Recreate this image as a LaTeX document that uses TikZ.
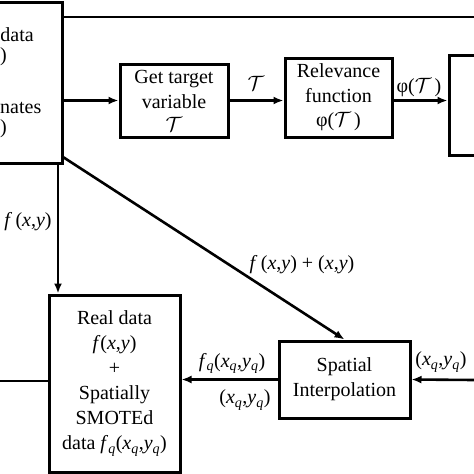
\documentclass[tikz,border=0pt]{standalone}
\usepackage{fontspec}
\setmainfont{Liberation Serif}
\usetikzlibrary{arrows.meta,calc}
\newcommand{\myi}[1]{\textit{#1}}
\begin{document}
\begin{tikzpicture}[x=1pt,y=-1pt,
  box/.style={draw,line width=3pt,rectangle,inner sep=0pt,align=center,
    font=\fontsize{20}{25}\selectfont},
  arr/.style={line width=2.6pt,-{Latex[length=10pt,width=8pt]}},
  ln/.style={line width=2.6pt},
  lab/.style={inner sep=0pt,font=\fontsize{20}{25}\selectfont},
  txt/.style={inner sep=0pt,font=\fontsize{20}{25}\selectfont}]
\useasboundingbox (0,0) rectangle (474,474);
\begin{scope}
\clip (0,0) rectangle (474,474);
\node[box,minimum width=102pt,minimum height=161pt] (L) at (11,82.5) {};
\node[box,minimum width=91pt,minimum height=100pt] (X) at (494.5,105) {};
\end{scope}
\node[txt,anchor=east] (L1) at (34,35) {data};
\node[txt,anchor=east] (L2) at (7,57) {)};
\node[txt,anchor=west] (L3) at (0,108) {nates};
\node[txt,anchor=east] (L4) at (7,129) {)};
\node[box,minimum width=108pt,minimum height=73pt] (G) at (174,100.5)
  {Get target\\variable\\[-2pt]$\mathcal{T}$};
\node[box,minimum width=107pt,minimum height=79pt] (R) at (338.5,97.5)
  {Relevance\\function\\[-1pt]φ($\mathcal{T}$\,)};
\node[box,minimum width=131pt,minimum height=177pt] (D) at (114.5,383.5)
  {Real data\\\myi{f}(\myi{x},\myi{y})\\+\\Spatially\\SMOTEd\\data \myi{f}\textsubscript{\myi{q}}(\myi{x}\textsubscript{\myi{q}},\myi{y}\textsubscript{\myi{q}})};
\node[box,minimum width=131pt,minimum height=77pt] (S) at (344.5,379.5)
  {Spatial\\Interpolation};
\coordinate (t1) at (474,17);
\coordinate (v) at (58,0);
\coordinate (r) at (474,380);
\coordinate (l) at (0,381);
\coordinate (d0) at (63,157);
\draw[ln] (L.east |- t1) -- (t1);
\draw[arr] (L.east |- G.west) -- (G.west);
\draw[arr] (G.east) -- (G.east -| R.west);
\draw[arr] (R.east |- G.east) -- (X.west |- G.east);
\draw[arr] (L.south -| v) -- (D.north -| v);
\draw[arr] (d0) -- (S.north);
\draw[arr] (S.west) -- (S.west -| D.east);
\draw[arr] (r) -- (S.east);
\draw[ln] (D.west |- l) -- (l);
\node[lab] (a1) at (256,83) {$\mathcal{T}$};
\node[lab] (a2) at (419,88) {φ($\mathcal{T}$\,)};
\node[lab] (a3) at (28,222) {\myi{f}\,(\myi{x},\myi{y})};
\node[lab] (a4) at (302,265) {\myi{f}\,(\myi{x},\myi{y}) + (\myi{x},\myi{y})};
\node[lab] (a5) at (232,363) {\myi{f}\textsubscript{\myi{q}}(\myi{x}\textsubscript{\myi{q}},\myi{y}\textsubscript{\myi{q}})};
\node[lab] (a6) at (245,400) {(\myi{x}\textsubscript{\myi{q}},\myi{y}\textsubscript{\myi{q}})};
\node[lab] (a7) at (441,362) {(\myi{x}\textsubscript{\myi{q}},\myi{y}\textsubscript{\myi{q}})};
\end{tikzpicture}
\end{document}
